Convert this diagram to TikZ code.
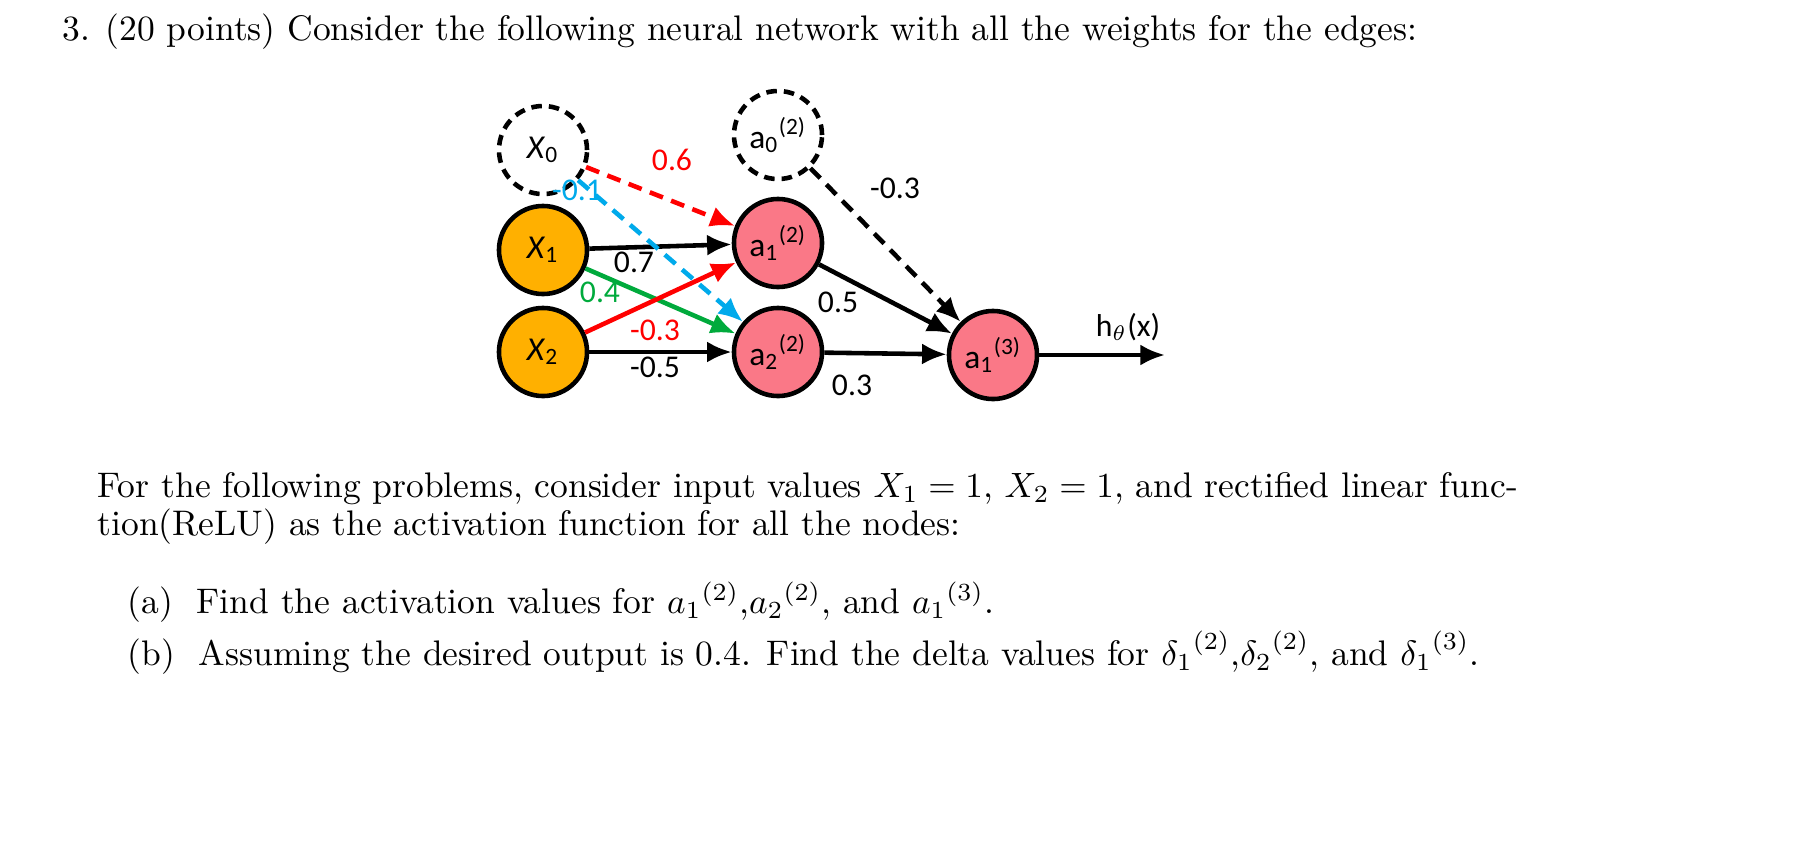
\documentclass[tikz,border=0pt]{standalone}
\usepackage{fontspec}
\newfontfamily\carlitofont{Carlito}
\usetikzlibrary{arrows.meta}
\definecolor{org}{RGB}{255,176,0}
\definecolor{pnk}{RGB}{250,120,135}
\definecolor{myred}{RGB}{255,0,0}
\definecolor{mygreen}{RGB}{0,170,60}
\definecolor{myblue}{RGB}{0,170,235}
\begin{document}
\begin{tikzpicture}[x=0.01cm,y=-0.01cm,
  nd/.style={circle,draw=black,line width=1.3pt,minimum size=0.88cm,inner sep=0pt,font=\carlitofont\fontsize{9.5}{10}\selectfont},
  dn/.style={nd,dashed,dash pattern=on 3pt off 2pt},
  e/.style={line width=1.3pt,-{Latex[length=7pt,width=6pt]}},
  de/.style={e,dash pattern=on 4pt off 2.5pt},
  lb/.style={font=\carlitofont\fontsize{9}{10}\selectfont,inner sep=1pt}]
\useasboundingbox (0,0) rectangle (1816,842);
\node[anchor=base west,font=\fontsize{10.1}{12}\selectfont] (t0) at (50,40) {3. (20 points) Consider the following neural network with all the weights for the edges:};
\node[dn] (x0) at (543,150) {\textit{X}\textsubscript{0}};
\node[nd,fill=org] (x1) at (543,250) {\textit{X}\textsubscript{1}};
\node[nd,fill=org] (x2) at (543,352) {\textit{X}\textsubscript{2}};
\node[dn] (a0) at (778,135) {a\textsubscript{0}\textsuperscript{(2)}};
\node[nd,fill=pnk] (a1) at (778,243) {a\textsubscript{1}\textsuperscript{(2)}};
\node[nd,fill=pnk] (a2) at (778,352) {a\textsubscript{2}\textsuperscript{(2)}};
\node[nd,fill=pnk] (a3) at (993,355) {a\textsubscript{1}\textsuperscript{(3)}};
\coordinate (out) at (1165,355);
\draw[e] (x1) -- (a1);
\draw[e,mygreen] (x1) -- (a2);
\draw[e,myred] (x2) -- (a1);
\draw[e] (x2) -- (a2);
\draw[de,myred] (x0) -- (a1);
\draw[de,myblue] (x0) -- (a2);
\draw[de] (a0) -- (a3);
\draw[e] (a1) -- (a3);
\draw[e] (a2) -- (a3);
\draw[e] (a3) -- (out);
\node[lb] (l1) at (634,262) {0.7};
\node[lb,mygreen] (l2) at (600,292) {0.4};
\node[lb,myred] (l3) at (655,330) {-0.3};
\node[lb] (l4) at (655,367) {-0.5};
\node[lb,myred] (l5) at (672,160) {0.6};
\node[lb,myblue] (l6) at (577,190) {-0.1};
\node[lb] (l7) at (895,188) {-0.3};
\node[lb] (l8) at (838,302) {0.5};
\node[lb] (l9) at (852,385) {0.3};
\node[lb] (l10) at (1128,327) {h\textsubscript{$\theta$}(x)};
\begin{scope}[every node/.style={anchor=base west,font=\fontsize{10.1}{12}\selectfont,inner sep=0pt}]
\node (p1) at (97,497) {For the following problems, consider input values $X_1=1$, $X_2=1$, and rectified linear func-};
\node (p2) at (97,535) {tion(ReLU) as the activation function for all the nodes:};
\node (p3) at (127,613) {(a)\ \ Find the activation values for ${a_1}^{(2)}$,${a_2}^{(2)}$, and ${a_1}^{(3)}$.};
\node (p4) at (127,665) {(b)\ \ Assuming the desired output is 0.4. Find the delta values for ${\delta_1}^{(2)}$,${\delta_2}^{(2)}$, and ${\delta_1}^{(3)}$.};
\end{scope}
\end{tikzpicture}
\end{document}
